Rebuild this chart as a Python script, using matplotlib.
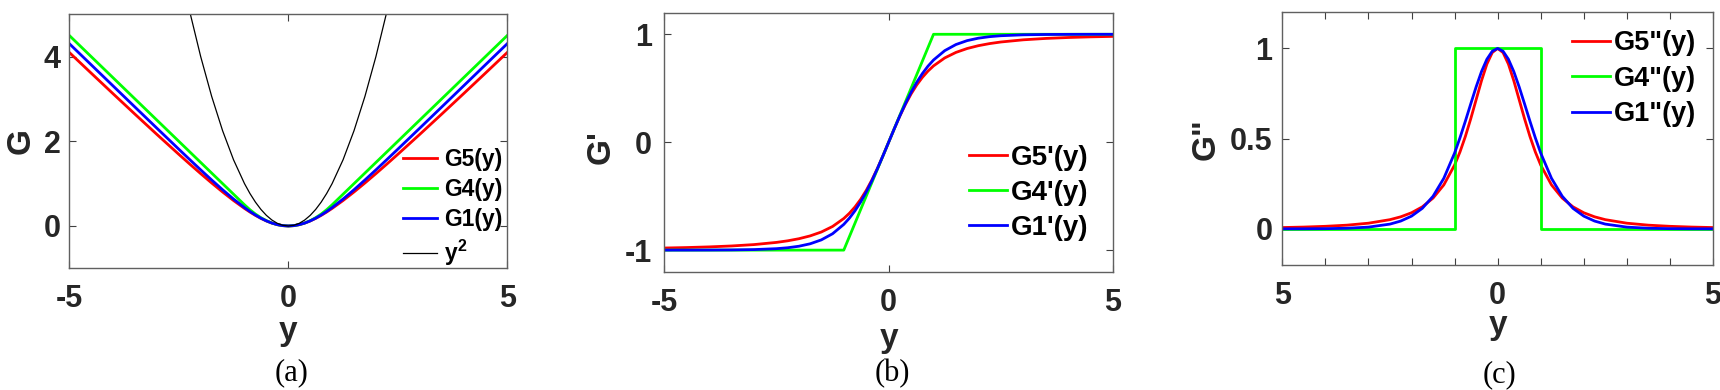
import matplotlib.pyplot as plt

plt.rcParams['font.family'] = ['Liberation Sans', 'DejaVu Sans']
plt.rcParams['font.weight'] = 'bold'
plt.rcParams['axes.labelweight'] = 'bold'
plt.rcParams['mathtext.fontset'] = 'custom'
plt.rcParams['mathtext.rm'] = 'Liberation Sans:bold'
plt.rcParams['mathtext.it'] = 'Liberation Sans:bold'
plt.rcParams['mathtext.bf'] = 'Liberation Sans:bold'

# sample points of y shared by the smooth curves
Y = [-5, -4.5, -4, -3.5, -3, -2.5, -2.25, -2, -1.75, -1.5, -1.25, -1,
     -0.875, -0.75, -0.625, -0.5, -0.375, -0.25, -0.125, 0,
     0.125, 0.25, 0.375, 0.5, 0.625, 0.75, 0.875, 1,
     1.25, 1.5, 1.75, 2, 2.25, 2.5, 3, 3.5, 4, 4.5, 5]

# (a) G functions
G5 = [4.0990, 3.6098, 3.1231, 2.6401, 2.1623, 1.6926, 1.4622, 1.2361, 1.0156,
      0.8028, 0.6008, 0.4142, 0.3288, 0.25, 0.1792, 0.1180, 0.0680, 0.0308,
      0.0078, 0, 0.0078, 0.0308, 0.0680, 0.1180, 0.1792, 0.25, 0.3288, 0.4142,
      0.6008, 0.8028, 1.0156, 1.2361, 1.4622, 1.6926, 2.1623, 2.6401, 3.1231,
      3.6098, 4.0990]
G4 = [4.5, 4.0, 3.5, 3.0, 2.5, 2.0, 1.75, 1.5, 1.25, 1.0, 0.75, 0.5, 0.3828,
      0.2813, 0.1953, 0.125, 0.0703, 0.0313, 0.0078, 0, 0.0078, 0.0313, 0.0703,
      0.125, 0.1953, 0.2813, 0.3828, 0.5, 0.75, 1.0, 1.25, 1.5, 1.75, 2.0, 2.5,
      3.0, 3.5, 4.0, 4.5]
G1 = [4.3069, 3.8070, 3.3072, 2.8077, 2.3093, 1.8136, 1.5679, 1.3250, 1.0866,
      0.8554, 0.6357, 0.4338, 0.3421, 0.2583, 0.1838, 0.1201, 0.0687, 0.0309,
      0.0078, 0, 0.0078, 0.0309, 0.0687, 0.1201, 0.1838, 0.2583, 0.3421, 0.4338,
      0.6357, 0.8554, 1.0866, 1.3250, 1.5679, 1.8136, 2.3093, 2.8077, 3.3072,
      3.8070, 4.3069]
Y2 = [25, 20.25, 16, 12.25, 9, 6.25, 5.0625, 4, 3.0625, 2.25, 1.5625, 1,
      0.7656, 0.5625, 0.3906, 0.25, 0.1406, 0.0625, 0.0156, 0, 0.0156, 0.0625,
      0.1406, 0.25, 0.3906, 0.5625, 0.7656, 1, 1.5625, 2.25, 3.0625, 4, 5.0625,
      6.25, 9, 12.25, 16, 20.25, 25]

# (b) first derivatives
G5P = [-0.9806, -0.9762, -0.9701, -0.9615, -0.9487, -0.9285, -0.9138, -0.8944,
       -0.8682, -0.8321, -0.7809, -0.7071, -0.6585, -0.6, -0.5300, -0.4472,
       -0.3511, -0.2425, -0.1240, 0, 0.1240, 0.2425, 0.3511, 0.4472, 0.5300,
       0.6, 0.6585, 0.7071, 0.7809, 0.8321, 0.8682, 0.8944, 0.9138, 0.9285,
       0.9487, 0.9615, 0.9701, 0.9762, 0.9806]
G1P = [-0.9999, -0.9998, -0.9993, -0.9982, -0.9951, -0.9866, -0.9780, -0.9640,
       -0.9414, -0.9051, -0.8483, -0.7616, -0.7039, -0.6351, -0.5546, -0.4621,
       -0.3584, -0.2449, -0.1244, 0, 0.1244, 0.2449, 0.3584, 0.4621, 0.5546,
       0.6351, 0.7039, 0.7616, 0.8483, 0.9051, 0.9414, 0.9640, 0.9780, 0.9866,
       0.9951, 0.9982, 0.9993, 0.9998, 0.9999]
Y_G4P = [-5, -1, 1, 5]
G4P = [-1, -1, 1, 1]

# (c) second derivatives
G5PP = [0.0075, 0.0102, 0.0143, 0.0207, 0.0316, 0.0512, 0.0670, 0.0894, 0.1221,
        0.1707, 0.2438, 0.3536, 0.4262, 0.512, 0.6098, 0.7155, 0.8209, 0.9131,
        0.9770, 1, 0.9770, 0.9131, 0.8209, 0.7155, 0.6098, 0.512, 0.4262, 0.3536,
        0.2438, 0.1707, 0.1221, 0.0894, 0.0670, 0.0512, 0.0316, 0.0207, 0.0143,
        0.0102, 0.0075]
G1PP = [0.0002, 0.0005, 0.0013, 0.0036, 0.0099, 0.0266, 0.0435, 0.0707, 0.1138,
        0.1808, 0.2804, 0.4200, 0.5045, 0.5966, 0.6924, 0.7864, 0.8716, 0.9400,
        0.9845, 1, 0.9845, 0.9400, 0.8716, 0.7864, 0.6924, 0.5966, 0.5045, 0.4200,
        0.2804, 0.1808, 0.1138, 0.0707, 0.0435, 0.0266, 0.0099, 0.0036, 0.0013,
        0.0005, 0.0002]
Y_G4PP = [-5, -1, -1, 1, 1, 5]
G4PP = [0, 0, 1, 1, 0, 0]

W, H = 1720, 390
fig = plt.figure(figsize=(W / 100, H / 100), dpi=100)
TXT = '#262626'
TICKFONT = dict(fontsize=22, fontweight='bold', color=TXT)
LABELFONT = dict(fontsize=24, fontweight='bold', color=TXT, va='center')


def box(l, t, r, b):
    return [l / W, 1 - b / H, (r - l) / W, (b - t) / H]


def style(ax, ypad):
    for s in ax.spines.values():
        s.set_color('#606060')
        s.set_linewidth(1.0)
    ax.tick_params(direction='in', length=5, width=0.8, top=True, right=True,
                   color='#404040')
    ax.tick_params(axis='x', pad=11.5)
    ax.tick_params(axis='y', pad=ypad)


# ---- (a)
ax = fig.add_axes(box(69.3, 14.3, 507.3, 268.3))
ax.plot(Y, G5, color='red', lw=2, label='G5(y)')
ax.plot(Y, G4, color='#00ff00', lw=2, label='G4(y)')
ax.plot(Y, G1, color='blue', lw=2, label='G1(y)')
ax.plot(Y, Y2, color='black', lw=0.9, label='$y^2$')
ax.set_xlim(-5, 5)
ax.set_ylim(-1, 5)
ax.set_xticks([-5, 0, 5], ['-5', '0', '5'], **TICKFONT)
ax.set_yticks([0, 2, 4], ['0', '2', '4'], **TICKFONT)
style(ax, 6)
ax.set_xlabel('y', **LABELFONT)
ax.xaxis.set_label_coords(0.5, -0.247)
ax.set_ylabel('G', **LABELFONT)
ax.yaxis.set_label_coords(-0.1107, 0.5)
ax.legend(loc='upper left', bbox_to_anchor=(0.762, 0.472), frameon=False,
          prop=dict(size=16.5, weight='bold'), handlelength=1.5,
          handletextpad=0.3, labelspacing=0.3, borderpad=0, borderaxespad=0)

# ---- (b)
ax = fig.add_axes(box(664.3, 12.7, 1113, 271.7))
ax.plot(Y, G5P, color='red', lw=2, label="G5'(y)")
ax.plot(Y_G4P, G4P, color='#00ff00', lw=2, label="G4'(y)")
ax.plot(Y, G1P, color='blue', lw=2, label="G1'(y)")
ax.set_xlim(-5, 5)
ax.set_ylim(-1.2, 1.2)
ax.set_xticks([-5, 0, 5], ['-5', '0', '5'], **TICKFONT)
ax.set_yticks([-1, 0, 1], ['-1', '0', '1'], **TICKFONT)
style(ax, 9)
ax.set_xlabel('y', **LABELFONT)
ax.xaxis.set_label_coords(0.5, -0.256)
ax.set_ylabel("G'", **LABELFONT)
ax.yaxis.set_label_coords(-0.141, 0.483)
ax.legend(loc='upper left', bbox_to_anchor=(0.679, 0.49), frameon=False,
          prop=dict(size=20, weight='bold'), handlelength=1.37,
          handletextpad=0.13, labelspacing=0.32, borderpad=0, borderaxespad=0)

# ---- (c)
ax = fig.add_axes(box(1282.3, 12.3, 1713, 265))
ax.plot(Y, G5PP, color='red', lw=2, label='G5"(y)')
ax.plot(Y_G4PP, G4PP, color='#00ff00', lw=2, label='G4"(y)')
ax.plot(Y, G1PP, color='blue', lw=2, label='G1"(y)')
ax.set_xlim(-5, 5)
ax.set_ylim(-0.2, 1.2)
ax.set_xticks(range(-5, 6),
              ['5', '', '', '', '', '0', '', '', '', '', '5'], **TICKFONT)
ax.set_yticks([0, 0.5, 1], ['0', '0.5', '1'], **TICKFONT)
style(ax, 7)
ax.set_xlabel('y', **LABELFONT)
ax.xaxis.set_label_coords(0.5, -0.241)
ax.set_ylabel('G"', **LABELFONT)
ax.yaxis.set_label_coords(-0.1776, 0.4966)
ax.legend(loc='upper left', bbox_to_anchor=(0.6726, 0.93), frameon=False,
          prop=dict(size=19.5, weight='bold'), handlelength=1.4,
          handletextpad=0.15, labelspacing=0.36, borderpad=0, borderaxespad=0)

# captions
for cx, cy, t in [(292, 373, '(a)'), (892, 374, '(b)'), (1500, 375, '(c)')]:
    fig.text(cx / W, 1 - cy / H, t, ha='center', va='center', fontsize=22,
             family=['Liberation Serif', 'DejaVu Serif'], weight='normal',
             color='black')

fig.savefig('out.png', dpi=100)
